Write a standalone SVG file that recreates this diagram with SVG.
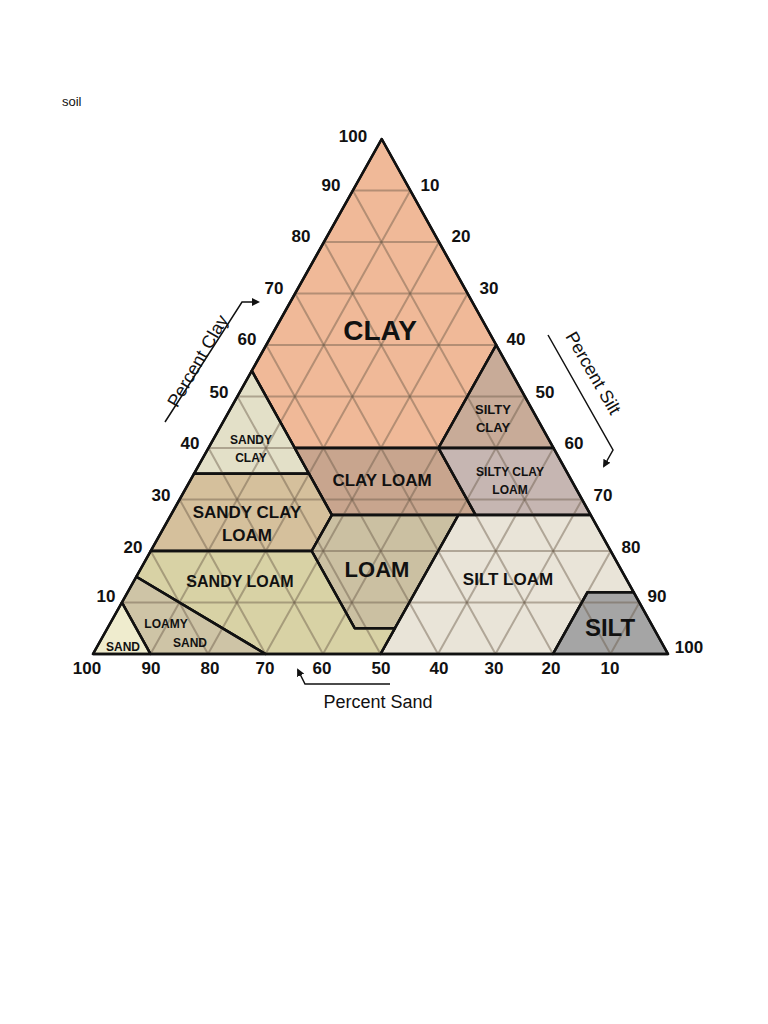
<svg xmlns="http://www.w3.org/2000/svg" width="768" height="1024" viewBox="0 0 768 1024">
<style>
.r{stroke:#111;stroke-width:2.5;stroke-linejoin:round}
.g{stroke:#6b5a4a;stroke-opacity:0.45;stroke-width:2;fill:none}
.n{font-family:"Liberation Sans",Arial,sans-serif;font-weight:bold;font-size:17px;fill:#111;text-anchor:middle}
.l{font-family:"Liberation Sans",Arial,sans-serif;font-weight:bold;fill:#111;text-anchor:middle}
.p{font-family:"Liberation Sans",Arial,sans-serif;font-size:18px;fill:#111;text-anchor:middle}
.a{fill:none;stroke:#111;stroke-width:1.5}
</style>
<defs><marker id="ah" markerWidth="8" markerHeight="8" refX="6" refY="4" orient="auto" markerUnits="userSpaceOnUse"><path d="M0,0 L8,4 L0,8 Z" fill="#111"/></marker></defs>
<rect width="768" height="1024" fill="#fff"/>
<text x="62" y="106" font-family="Liberation Sans,Arial,sans-serif" font-size="13" fill="#111">soil</text>
<g id="regions">
<polygon id="clay" class="r" fill="#f0b998" points="381.7,139 251.8,370.75 294.75,448 438.5,448 496.2,345"/>
<polygon id="sandy-clay" class="r" fill="#e3e0c8" points="251.8,370.75 194,473.75 309,473.75 294.75,448"/>
<polygon id="silty-clay" class="r" fill="#c8ab98" points="496.2,345 553.5,448 438.5,448"/>
<polygon id="clay-loam" class="r" fill="#c8a58e" points="294.75,448 309,473.75 331.9,515 475.65,515 438.5,448"/>
<polygon id="silty-clay-loam" class="r" fill="#c6b6b2" points="438.5,448 553.5,448 590.65,515 475.65,515"/>
<polygon id="sandy-clay-loam" class="r" fill="#d5c09c" points="194,473.75 150.7,551 311.7,551 331.9,515 309,473.75"/>
<polygon id="loam" class="r" fill="#cbc0a2" points="331.9,515 458.4,515 394.9,628.25 354.7,628.25 311.7,551"/>
<polygon id="silt-loam" class="r" fill="#e9e4d8" points="458.4,515 590.65,515 633.6,592.2 587.6,592.2 553,654 380.5,654 394.9,628.25"/>
<polygon id="silt" class="r" fill="#a5a5a5" points="587.6,592.2 633.6,592.2 668,654 553,654"/>
<polygon id="sandy-loam" class="r" fill="#d8d2a5" points="150.7,551 136.3,576.75 265.5,654 380.5,654 394.9,628.25 354.7,628.25 311.7,551"/>
<polygon id="loamy-sand" class="r" fill="#cec4a6" points="136.3,576.75 121.9,602.5 150.5,654 265.5,654"/>
<polygon id="sand" class="r" fill="#efecce" points="121.9,602.5 93,654 150.5,654"/>
</g>
<g id="grid" class="g">
<path d="M150.5,654L410.3,190.5M208,654L439,242M265.5,654L467.6,293.5M323,654L496.2,345M380.5,654L524.9,396.5M438,654L553.5,448M495.5,654L582.1,499.5M553,654L610.7,551M610.5,654L639.4,602.5"/>
<path d="M610.5,654L352.8,190.5M553,654L324,242M495.5,654L295.1,293.5M438,654L266.2,345M380.5,654L237.4,396.5M323,654L208.5,448M265.5,654L179.6,499.5M208,654L150.7,551M150.5,654L121.9,602.5"/>
<path d="M121.9,602.5H639.4M150.7,551H610.7M179.6,499.5H582.1M208.5,448H553.5M237.4,396.5H524.9M266.2,345H496.2M295.1,293.5H467.6M324,242H439M352.8,190.5H410.3"/>
</g>
<g id="boundaries" fill="none" class="r">
<polyline points="251.8,370.75 294.75,448 438.5,448 496.2,345"/>
<polyline points="194,473.75 309,473.75 294.75,448"/>
<polyline points="438.5,448 553.5,448"/>
<polyline points="309,473.75 331.9,515 475.65,515 438.5,448"/>
<polyline points="475.65,515 590.65,515"/>
<polyline points="150.7,551 311.7,551 331.9,515"/>
<polyline points="458.4,515 394.9,628.25 354.7,628.25 311.7,551"/>
<polyline points="394.9,628.25 380.5,654"/>
<polyline points="553,654 587.6,592.2 633.6,592.2"/>
<polyline points="136.3,576.75 265.5,654"/>
<polyline points="121.9,602.5 150.5,654"/>
<polygon points="381.7,139 93,654 668,654"/>
</g>
<g id="labels">
<text class="l" x="380" y="340" font-size="28">CLAY</text>
<text class="l" x="493" y="414" font-size="13">SILTY</text><text class="l" x="493" y="432" font-size="13">CLAY</text>
<text class="l" x="251" y="444" font-size="12">SANDY</text><text class="l" x="251" y="462" font-size="12">CLAY</text>
<text class="l" x="382" y="486" font-size="17">CLAY LOAM</text>
<text class="l" x="510" y="476" font-size="12">SILTY CLAY</text><text class="l" x="510" y="494" font-size="12">LOAM</text>
<text class="l" x="247" y="518" font-size="17">SANDY CLAY</text><text class="l" x="247" y="541" font-size="17">LOAM</text>
<text class="l" x="377" y="577" font-size="22">LOAM</text>
<text class="l" x="508" y="585" font-size="17">SILT LOAM</text>
<text class="l" x="610" y="636" font-size="24">SILT</text>
<text class="l" x="240" y="587" font-size="16">SANDY LOAM</text>
<text class="l" x="166" y="628" font-size="12">LOAMY</text><text class="l" x="190" y="647" font-size="12">SAND</text>
<text class="l" x="123" y="651" font-size="12">SAND</text>
</g>
<g id="axes">
<text class="n" x="353" y="142">100</text>
<text class="n" x="331" y="191">90</text>
<text class="n" x="301" y="242">80</text>
<text class="n" x="274" y="294">70</text>
<text class="n" x="247" y="345">60</text>
<text class="n" x="219" y="398">50</text>
<text class="n" x="190" y="449">40</text>
<text class="n" x="161" y="501">30</text>
<text class="n" x="133" y="553">20</text>
<text class="n" x="106" y="602">10</text>
<text class="n" x="430" y="191">10</text>
<text class="n" x="461" y="242">20</text>
<text class="n" x="489" y="294">30</text>
<text class="n" x="516" y="345">40</text>
<text class="n" x="545" y="398">50</text>
<text class="n" x="574" y="449">60</text>
<text class="n" x="603" y="501">70</text>
<text class="n" x="631" y="553">80</text>
<text class="n" x="657" y="602">90</text>
<text class="n" x="689" y="653">100</text>
<text class="n" x="87" y="674">100</text>
<text class="n" x="151" y="674">90</text>
<text class="n" x="210" y="674">80</text>
<text class="n" x="265" y="674">70</text>
<text class="n" x="322" y="674">60</text>
<text class="n" x="381" y="674">50</text>
<text class="n" x="439" y="674">40</text>
<text class="n" x="494" y="674">30</text>
<text class="n" x="551" y="674">20</text>
<text class="n" x="610" y="674">10</text>
</g>
<g id="connectors">
<path class="a" d="M390,684 H305 L298,670" marker-end="url(#ah)"/>
<path class="a" d="M165,422 L242,302 H258" marker-end="url(#ah)"/>
<path class="a" d="M548,335 L613,450 L604,466" marker-end="url(#ah)"/>
</g>
<text class="p" x="378" y="708">Percent Sand</text>
<text class="p" transform="translate(203,364) rotate(-60)">Percent Clay</text>
<text class="p" transform="translate(588,376) rotate(60)">Percent Silt</text>
</svg>
